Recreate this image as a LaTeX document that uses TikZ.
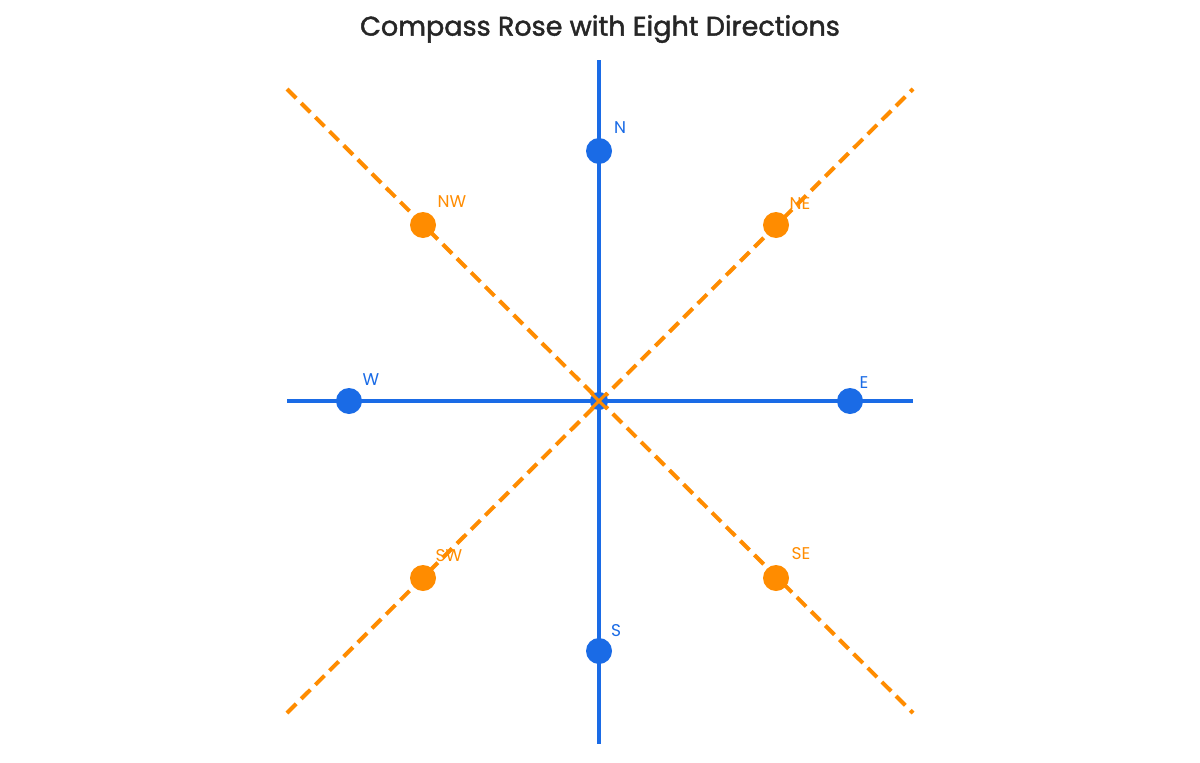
\documentclass[tikz,border=0pt]{standalone}
\usepackage{fontspec}
\setmainfont{Poppins}
\newfontfamily\titlefont[FakeBold=1.6]{Poppins}
\definecolor{cblue}{HTML}{1A6BE6}
\definecolor{corange}{HTML}{FF8C00}
\begin{document}
\begin{tikzpicture}[x=1pt,y=-1pt,
  bline/.style={cblue,line width=4pt},
  oline/.style={corange,line width=4pt,dash pattern=on 13pt off 7pt},
  bdot/.style={circle,fill=cblue,inner sep=0pt,minimum size=26pt},
  odot/.style={circle,fill=corange,inner sep=0pt,minimum size=26pt},
  blab/.style={text=cblue,font=\fontsize{17}{17}\selectfont},
  olab/.style={text=corange,font=\fontsize{17}{17}\selectfont}]
\useasboundingbox (0,0) rectangle (1200,763);
\fill[white] (0,0) rectangle (1200,763);
\node[font=\titlefont\fontsize{27}{27}\selectfont,text=black!85] (title) at (600,29) {Compass Rose with Eight Directions};
\coordinate (c) at (599,401);
\coordinate (nwend) at (287,89); \coordinate (seend) at (913,713);
\coordinate (neend) at (913,89); \coordinate (swend) at (287,713);
\coordinate (nend) at (599,60); \coordinate (send) at (599,744);
\coordinate (wend) at (287,401); \coordinate (eend) at (913,401);
\draw[oline] (nwend) -- (seend);
\draw[oline] (swend) -- (neend);
\draw[bline] (nend) -- (send);
\draw[bline] (wend) -- (eend);
\node[bdot] (N) at (599,151) {};
\node[bdot] (S) at (599,651) {};
\node[bdot] (E) at (850,401) {};
\node[bdot] (W) at (349,401) {};
\node[odot] (NW) at (423,225) {};
\node[odot] (NE) at (776,225) {};
\node[odot] (SW) at (423,578) {};
\node[odot] (SE) at (776,578) {};
\node[circle,fill=cblue,inner sep=0pt,minimum size=18pt] (C) at (c) {};
\draw[corange,line width=3pt] (591,393) -- (607,409) (591,409) -- (607,393);
\node[blab] at (620,128) {N};
\node[blab] at (616,631) {S};
\node[blab] at (864,383) {E};
\node[blab] at (371,380) {W};
\node[olab] at (452,202) {NW};
\node[olab] at (800,204) {NE};
\node[olab] at (449,556) {SW};
\node[olab] at (801,554) {SE};
\end{tikzpicture}
\end{document}
